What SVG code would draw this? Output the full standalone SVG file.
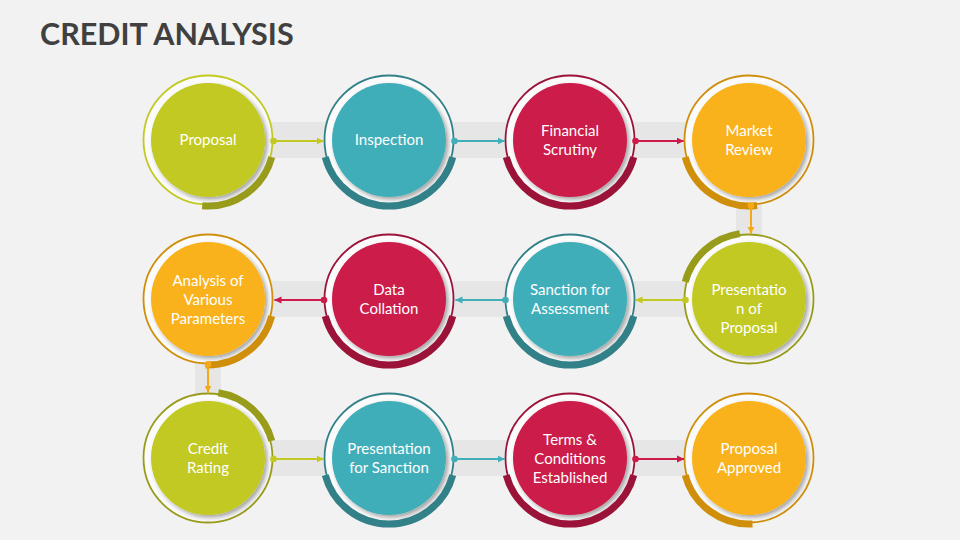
<svg xmlns="http://www.w3.org/2000/svg" width="960" height="540" viewBox="0 0 960 540">
<defs>
<style>
.lbl{font-family:Lato,"Open Sans","Liberation Sans",sans-serif;font-size:15px;fill:#ffffff;text-anchor:middle;}
.band{fill:#e6e6e6;}
.disc{fill:#fbfbfb;}
.arc{fill:none;stroke-width:7;stroke-linecap:butt;}
.conn{fill:none;stroke-width:2;}
</style>
<filter id="sh" x="-20%" y="-20%" width="150%" height="150%">
<feDropShadow dx="2.5" dy="2.5" stdDeviation="2.2" flood-color="#000" flood-opacity="0.35"/>
</filter>
<marker id="ag" viewBox="0 0 8 8" refX="7" refY="4" markerWidth="8" markerHeight="8" markerUnits="userSpaceOnUse" orient="auto"><path d="M0,0.5 L7.5,4 L0,7.5 z" fill="#c2c922"/></marker>
<marker id="at" viewBox="0 0 8 8" refX="7" refY="4" markerWidth="8" markerHeight="8" markerUnits="userSpaceOnUse" orient="auto"><path d="M0,0.5 L7.5,4 L0,7.5 z" fill="#41aeb9"/></marker>
<marker id="ac" viewBox="0 0 8 8" refX="7" refY="4" markerWidth="8" markerHeight="8" markerUnits="userSpaceOnUse" orient="auto"><path d="M0,0.5 L7.5,4 L0,7.5 z" fill="#cc1a4a"/></marker>
<marker id="ao" viewBox="0 0 8 8" refX="7" refY="4" markerWidth="8" markerHeight="8" markerUnits="userSpaceOnUse" orient="auto"><path d="M0,0.5 L7.5,4 L0,7.5 z" fill="#f5a915"/></marker>
<marker id="dg" viewBox="0 0 8 8" refX="4" refY="4" markerWidth="8" markerHeight="8" markerUnits="userSpaceOnUse"><circle cx="4" cy="4" r="3.3" fill="#c2c922"/></marker>
<marker id="dt" viewBox="0 0 8 8" refX="4" refY="4" markerWidth="8" markerHeight="8" markerUnits="userSpaceOnUse"><circle cx="4" cy="4" r="3.3" fill="#41aeb9"/></marker>
<marker id="dc" viewBox="0 0 8 8" refX="4" refY="4" markerWidth="8" markerHeight="8" markerUnits="userSpaceOnUse"><circle cx="4" cy="4" r="3.3" fill="#cc1a4a"/></marker>
<marker id="do" viewBox="0 0 8 8" refX="4" refY="4" markerWidth="8" markerHeight="8" markerUnits="userSpaceOnUse"><circle cx="4" cy="4" r="3.3" fill="#f5a915"/></marker>
</defs>
<rect x="0" y="0" width="960" height="540" fill="#f2f2f2"/>
<text x="40" y="45" font-family="Lato,'Open Sans','Liberation Sans',sans-serif" font-size="30.5" font-weight="bold" fill="#404040">CREDIT ANALYSIS</text>

<g id="bands">
<rect class="band" x="208" y="122" width="541" height="36"/>
<rect class="band" x="208" y="281" width="541" height="36"/>
<rect class="band" x="208" y="440" width="541" height="36"/>
<rect class="band" x="736" y="140" width="26" height="159"/>
<rect class="band" x="195" y="299" width="26" height="159"/>
</g>

<g id="node-proposal">
<circle class="disc" cx="208" cy="140" r="64.5" stroke="#c2c922" stroke-width="1.8"/>
<circle cx="208" cy="140" r="57" fill="#c2c922" filter="url(#sh)"/>
<path class="arc" stroke="#989c1a" d="M271.75 157.08 A66 66 0 0 1 202.25 205.75"/>
<text class="lbl" x="208" y="145">Proposal</text>
</g>
<g id="node-inspection">
<circle class="disc" cx="389" cy="140" r="64.5" stroke="#328088" stroke-width="1.8"/>
<circle cx="389" cy="140" r="57" fill="#41aeb9" filter="url(#sh)"/>
<path class="arc" stroke="#328088" d="M452.75 157.08 A66 66 0 0 1 325.25 157.08"/>
<text class="lbl" x="389" y="145">Inspection</text>
</g>
<g id="node-financial">
<circle class="disc" cx="570" cy="140" r="64.5" stroke="#9c1339" stroke-width="1.8"/>
<circle cx="570" cy="140" r="57" fill="#cc1a4a" filter="url(#sh)"/>
<path class="arc" stroke="#9c1339" d="M633.75 157.08 A66 66 0 0 1 506.25 157.08"/>
<text class="lbl" x="570" y="135.5">Financial</text>
<text class="lbl" x="570" y="154.5">Scrutiny</text>
</g>
<g id="node-market">
<circle class="disc" cx="749" cy="140" r="64.5" stroke="#cf8f0b" stroke-width="1.8"/>
<circle cx="749" cy="140" r="57" fill="#f9b21a" filter="url(#sh)"/>
<path class="arc" stroke="#cf8f0b" d="M757.04 205.51 A66 66 0 0 1 685.25 157.08"/>
<text class="lbl" x="749" y="135.5">Market</text>
<text class="lbl" x="749" y="154.5">Review</text>
</g>

<g id="node-analysis">
<circle class="disc" cx="208" cy="299" r="64.5" stroke="#cf8f0b" stroke-width="1.8"/>
<circle cx="208" cy="299" r="57" fill="#f9b21a" filter="url(#sh)"/>
<path class="arc" stroke="#cf8f0b" d="M271.75 316.08 A66 66 0 0 1 205.7 364.96"/>
<text class="lbl" x="208" y="285.5">Analysis of</text>
<text class="lbl" x="208" y="304.5">Various</text>
<text class="lbl" x="208" y="323.5">Parameters</text>
</g>
<g id="node-data">
<circle class="disc" cx="389" cy="299" r="64.5" stroke="#9c1339" stroke-width="1.8"/>
<circle cx="389" cy="299" r="57" fill="#cc1a4a" filter="url(#sh)"/>
<path class="arc" stroke="#9c1339" d="M452.75 316.08 A66 66 0 0 1 325.25 316.08"/>
<text class="lbl" x="389" y="294.5">Data</text>
<text class="lbl" x="389" y="313.5">Collation</text>
</g>
<g id="node-sanction">
<circle class="disc" cx="570" cy="299" r="64.5" stroke="#328088" stroke-width="1.8"/>
<circle cx="570" cy="299" r="57" fill="#41aeb9" filter="url(#sh)"/>
<path class="arc" stroke="#328088" d="M633.75 316.08 A66 66 0 0 1 506.25 316.08"/>
<text class="lbl" x="570" y="294.5">Sanction for</text>
<text class="lbl" x="570" y="313.5">Assessment</text>
</g>
<g id="node-presentation-proposal">
<circle class="disc" cx="749" cy="299" r="64.5" stroke="#989c1a" stroke-width="1.8"/>
<circle cx="749" cy="299" r="57" fill="#c2c922" filter="url(#sh)"/>
<path class="arc" stroke="#989c1a" d="M685.25 281.92 A66 66 0 0 1 739.81 233.64"/>
<text class="lbl" x="749" y="294.5">Presentatio</text>
<text class="lbl" x="749" y="313.5">n of</text>
<text class="lbl" x="749" y="332.5">Proposal</text>
</g>

<g id="node-credit">
<circle class="disc" cx="208" cy="458" r="64.5" stroke="#989c1a" stroke-width="1.8"/>
<circle cx="208" cy="458" r="57" fill="#c2c922" filter="url(#sh)"/>
<path class="arc" stroke="#989c1a" d="M218.32 392.81 A66 66 0 0 1 271.75 440.92"/>
<text class="lbl" x="208" y="453.5">Credit</text>
<text class="lbl" x="208" y="472.5">Rating</text>
</g>
<g id="node-presentation-sanction">
<circle class="disc" cx="389" cy="458" r="64.5" stroke="#328088" stroke-width="1.8"/>
<circle cx="389" cy="458" r="57" fill="#41aeb9" filter="url(#sh)"/>
<path class="arc" stroke="#328088" d="M452.75 475.08 A66 66 0 0 1 325.25 475.08"/>
<text class="lbl" x="389" y="453.5">Presentation</text>
<text class="lbl" x="389" y="472.5">for Sanction</text>
</g>
<g id="node-terms">
<circle class="disc" cx="570" cy="458" r="64.5" stroke="#9c1339" stroke-width="1.8"/>
<circle cx="570" cy="458" r="57" fill="#cc1a4a" filter="url(#sh)"/>
<path class="arc" stroke="#9c1339" d="M633.75 475.08 A66 66 0 0 1 506.25 475.08"/>
<text class="lbl" x="570" y="444.5">Terms &amp;</text>
<text class="lbl" x="570" y="463.5">Conditions</text>
<text class="lbl" x="570" y="482.5">Established</text>
</g>
<g id="node-approved">
<circle class="disc" cx="749" cy="458" r="64.5" stroke="#cf8f0b" stroke-width="1.8"/>
<circle cx="749" cy="458" r="57" fill="#f9b21a" filter="url(#sh)"/>
<path class="arc" stroke="#cf8f0b" d="M752.45 523.91 A66 66 0 0 1 685.25 475.08"/>
<text class="lbl" x="749" y="453.5">Proposal</text>
<text class="lbl" x="749" y="472.5">Approved</text>
</g>

<g id="connectors">
<line class="conn" x1="273.5" y1="141" x2="323.5" y2="141" stroke="#c2c922" marker-start="url(#dg)" marker-end="url(#ag)"/>
<line class="conn" x1="454.5" y1="141" x2="504.5" y2="141" stroke="#41aeb9" marker-start="url(#dt)" marker-end="url(#at)"/>
<line class="conn" x1="635.5" y1="141" x2="683.5" y2="141" stroke="#cc1a4a" marker-start="url(#dc)" marker-end="url(#ac)"/>
<line class="conn" x1="751" y1="205.5" x2="751" y2="233.5" stroke="#f5a915" marker-start="url(#do)" marker-end="url(#ao)"/>
<line class="conn" x1="685.5" y1="300" x2="635.5" y2="300" stroke="#c2c922" marker-start="url(#dg)" marker-end="url(#ag)"/>
<line class="conn" x1="505.5" y1="300" x2="455.5" y2="300" stroke="#41aeb9" marker-start="url(#dt)" marker-end="url(#at)"/>
<line class="conn" x1="324" y1="300" x2="274.5" y2="300" stroke="#cc1a4a" marker-start="url(#dc)" marker-end="url(#ac)"/>
<line class="conn" x1="208" y1="364.5" x2="208" y2="392.5" stroke="#f5a915" marker-start="url(#do)" marker-end="url(#ao)"/>
<line class="conn" x1="273.5" y1="459" x2="323.5" y2="459" stroke="#c2c922" marker-start="url(#dg)" marker-end="url(#ag)"/>
<line class="conn" x1="454.5" y1="459" x2="504.5" y2="459" stroke="#41aeb9" marker-start="url(#dt)" marker-end="url(#at)"/>
<line class="conn" x1="635.5" y1="459" x2="684" y2="459" stroke="#cc1a4a" marker-start="url(#dc)" marker-end="url(#ac)"/>
</g>
</svg>
